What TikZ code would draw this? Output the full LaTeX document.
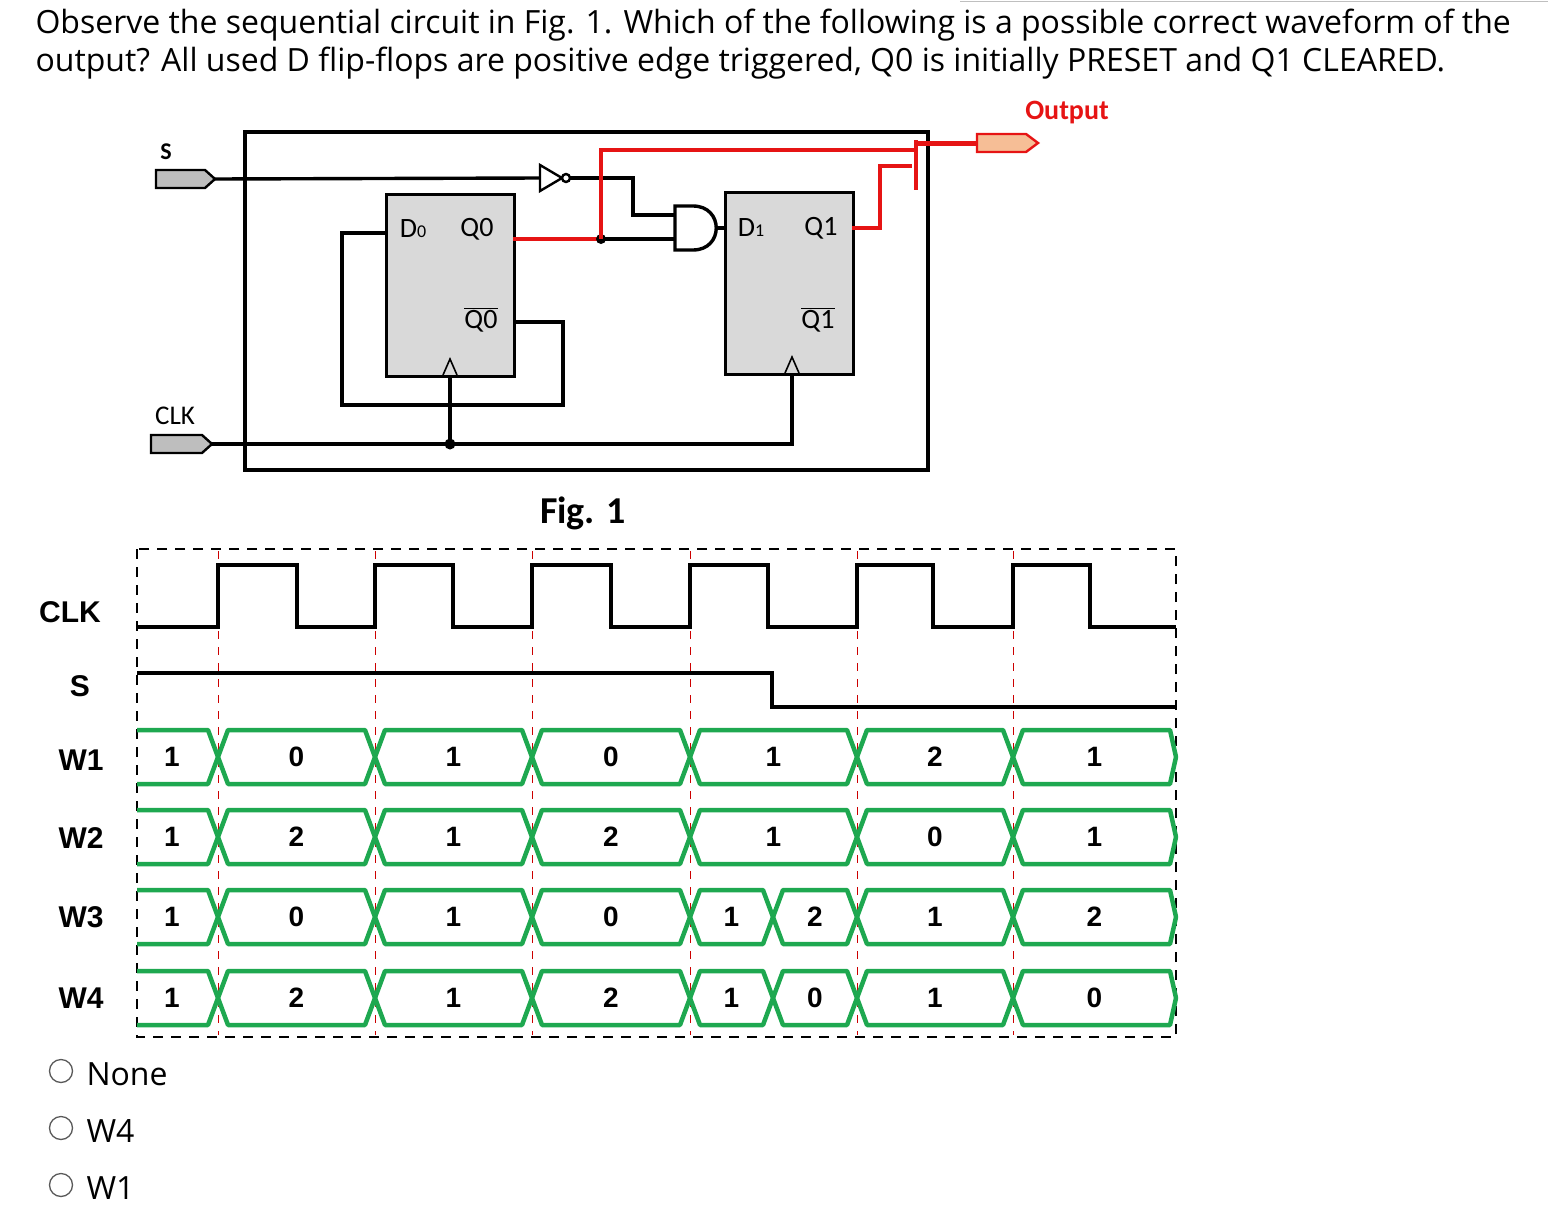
\documentclass[tikz,border=0pt]{standalone}
\usepackage{fontspec}
\setmainfont{Open Sans}
\newfontfamily\arialb{Liberation Sans}[BoldFont=* Bold]
\newfontfamily\cali{Carlito}
\usetikzlibrary{shapes.geometric}
\definecolor{bgreen}{RGB}{30,168,80}
\definecolor{wred}{RGB}{230,20,20}
\definecolor{pinfill}{RGB}{190,190,190}
\definecolor{peach}{RGB}{246,190,150}
\definecolor{ffgray}{RGB}{217,217,217}
\tikzset{
  wire/.style={line width=3.4pt},
  rwire/.style={line width=3.4pt,draw=wred},
  ff/.style={draw,line width=3.4pt,fill=ffgray},
  lab/.style={font=\cali\fontsize{28}{28}\selectfont},
  wl/.style={font=\arialb\bfseries\fontsize{30}{30}\selectfont},
  bus/.style={draw=bgreen,line width=4.5pt,line join=round},
  vlab/.style={font=\arialb\bfseries\fontsize{28}{28}\selectfont},
  grid/.style={dashed,draw=red!80!black,line width=1pt,dash pattern=on 8pt off 8pt},
  frame/.style={draw=black,line width=1.8pt,dash pattern=on 10pt off 8pt},
  pin/.style={draw,line width=2.4pt,fill=pinfill},
  q/.style={font=\fontsize{32}{38}\selectfont,anchor=west},
}
\newcommand\busseg[5]{% xa xb y label dEnd
  \draw[bus] (#1,#3) -- (#1+10,#3-27) -- (#2-#5,#3-27) -- (#2,#3) -- (#2-#5,#3+27) -- (#1+10,#3+27) -- cycle;
  \node[vlab] at ({(#1+#2)/2},#3) {#4};}
\newcommand\busfirst[3]{% xb y label
  \draw[bus] (137,#2-27) -- (#1-10,#2-27) -- (#1,#2) -- (#1-10,#2+27) -- (137,#2+27);
  \node[vlab] at (172,#2) {#3};}
\begin{document}
\begin{tikzpicture}[x=1pt,y=-1pt]
\useasboundingbox (0,0) rectangle (1548,1210);
\draw[gray!50,line width=1pt] (960,1) -- (1548,1);
% question
\node[q] (q1) at (32,25) {Observe the sequential circuit in Fig. 1. Which of the following is a possible correct waveform of the};
\node[q] (q2) at (32,63) {output? All used D flip-flops are positive edge triggered, Q0 is initially PRESET and Q1 CLEARED.};
% circuit
\draw[wire] (245,132) rectangle (928,470);
\node[ff,minimum width=128,minimum height=182,anchor=north west] (ff0) at (385,193) {};
\node[ff,minimum width=128,minimum height=182,anchor=north west] (ff1) at (724,191) {};
\node[lab] at (413,229) {D\fontsize{18}{18}\selectfont 0};
\node[lab] at (477,229) {Q0};
\node[lab] at (481,320) {$\overline{\hbox{Q0}}$};
\node[lab] at (751,228) {D\fontsize{18}{18}\selectfont 1};
\node[lab] at (821,228) {Q1};
\node[lab] at (818,320) {$\overline{\hbox{Q1}}$};
\draw[line width=1.6pt] (443,375) -- (450,359) -- (457,375);
\draw[line width=1.6pt] (785,373) -- (792,357) -- (799,373);
% pins
\node[font=\cali\bfseries\fontsize{24}{24}\selectfont] at (166,152) {S};
\draw[pin] (156,170) -- (205,170) -- (215,179) -- (205,188) -- (156,188) -- cycle;
\coordinate (sp) at (215,179);
\node[font=\cali\fontsize{27}{27}\selectfont] at (175,416) {CLK};
\draw[pin] (151,435) -- (202,435) -- (212,444) -- (202,453) -- (151,453) -- cycle;
\coordinate (cp) at (212,444);
% inverter
\draw[line width=2.4pt,fill=white] (540,165) -- (562,178) -- (540,191) -- cycle;
\draw[line width=2.4pt,fill=white] (566,178) circle (4);
\draw[wire] (sp) -- (540,178);
\draw[wire] (570,178) -- (633,178) -- (633,215) -- (675,215);
% and gate
\draw[wire,fill=white] (675,206) -- (693,206) .. controls (724,206) and (724,250) .. (693,250) -- (675,250) -- cycle;
\draw[wire] (716,228) -- (ff1.west |- 0,228);
% Q0 out
\draw[rwire] (513,239) -- (601,239);
\draw[wire] (601,239) -- (675,239);
\fill (601,239) circle (5);
\draw[rwire] (601,239) -- (601,150) -- (916,150);
\draw[rwire] (852,228) -- (880,228) -- (880,166) -- (912,166);
\draw[draw=wred,line width=4.5pt] (916,140) -- (916,190);
\draw[draw=wred,line width=5pt] (916,143) -- (977,143);
\draw[line width=2.4pt,draw=wred,fill=peach] (977,134) -- (1026,134) -- (1038,143) -- (1026,152) -- (977,152) -- cycle;
\node[text=wred,font=\cali\bfseries\fontsize{28}{28}\selectfont] at (1067,113) {Output};
% feedback
\draw[wire] (385,233) -- (342,233) -- (342,405) -- (563,405) -- (563,322) -- (513,322);
% clock
\draw[wire] (cp) -- (792,444) -- (792,373);
\draw[wire] (450,444) -- (450,375);
\fill (450,444) circle (5.5);
\node[font=\cali\bfseries\fontsize{38}{38}\selectfont] at (583,513) {Fig. 1};
% timing
\draw[frame] (137,549) rectangle (1176,1037);
\foreach \x in {218,375,532,690,857,1013} \draw[grid] (\x,551) -- (\x,1035);
\draw[line width=4pt,line join=miter] (137,627) -- (218,627) -- (218,565) -- (297,565) -- (297,627) -- (375,627) -- (375,565) -- (453,565) -- (453,627) -- (532,627) -- (532,565) -- (611,565) -- (611,627) -- (690,627) -- (690,565) -- (768,565) -- (768,627) -- (857,627) -- (857,565) -- (933,565) -- (933,627) -- (1013,627) -- (1013,565) -- (1090,565) -- (1090,627) -- (1176,627);
\draw[line width=4pt] (137,673) -- (772,673) -- (772,707) -- (1176,707);
\foreach \t/\y/\x in {CLK/612/70,S/686/80,W1/760/81,W2/838/81,W3/917/81,W4/998/81} \node[wl] at (\x,\y) {\t};
% W1
\busfirst{218}{757}{1}
\busseg{218}{375}{757}{0}{10}\busseg{375}{532}{757}{1}{10}\busseg{532}{690}{757}{0}{10}
\busseg{690}{857}{757}{1}{10}\busseg{857}{1013}{757}{2}{10}\busseg{1013}{1176}{757}{1}{6}
% W2
\busfirst{218}{837}{1}
\busseg{218}{375}{837}{2}{10}\busseg{375}{532}{837}{1}{10}\busseg{532}{690}{837}{2}{10}
\busseg{690}{857}{837}{1}{10}\busseg{857}{1013}{837}{0}{10}\busseg{1013}{1176}{837}{1}{6}
% W3
\busfirst{218}{917}{1}
\busseg{218}{375}{917}{0}{10}\busseg{375}{532}{917}{1}{10}\busseg{532}{690}{917}{0}{10}
\busseg{690}{773}{917}{1}{10}\busseg{773}{857}{917}{2}{10}\busseg{857}{1013}{917}{1}{10}\busseg{1013}{1176}{917}{2}{6}
% W4
\busfirst{218}{998}{1}
\busseg{218}{375}{998}{2}{10}\busseg{375}{532}{998}{1}{10}\busseg{532}{690}{998}{2}{10}
\busseg{690}{773}{998}{1}{10}\busseg{773}{857}{998}{0}{10}\busseg{857}{1013}{998}{1}{10}\busseg{1013}{1176}{998}{0}{6}
% options
\foreach \y/\t in {1071/None,1128/W4,1185/W1} {
  \draw[gray!70!black,line width=1.3pt] (61,\y) circle (11.5);
  \node[q] at (83,\y+3) {\t};
}
\end{tikzpicture}
\end{document}
